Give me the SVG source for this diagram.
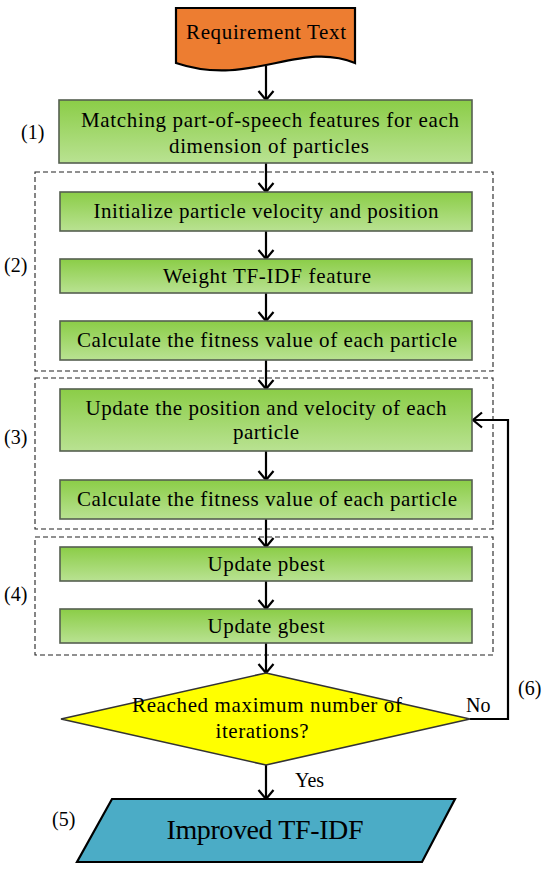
<svg xmlns="http://www.w3.org/2000/svg" width="550" height="874" viewBox="0 0 550 874">
<defs>
<linearGradient id="g" x1="0" y1="0" x2="0" y2="1">
<stop offset="0" stop-color="#8bcd47"/>
<stop offset="1" stop-color="#b9e292"/>
</linearGradient>
<marker id="ah" viewBox="-11 -9 13 18" markerWidth="13" markerHeight="18" refX="0" refY="0" orient="auto" markerUnits="userSpaceOnUse">
<path d="M-9,-7.5 L0,0 L-9,7.5" fill="none" stroke="#000" stroke-width="2.2"/>
</marker>
</defs>
<style>
text{font-family:"Liberation Serif","Times New Roman",serif;fill:#000;}
.t{font-size:21px;text-anchor:middle;}
.lbl{font-size:20px;}
.box{fill:url(#g);stroke:#555f50;stroke-width:1.6;}
.dash{fill:none;stroke:#222;stroke-width:1.1;stroke-dasharray:5,3;}
.c{fill:none;stroke:#000;stroke-width:2.2;marker-end:url(#ah);}
</style>
<rect width="550" height="874" fill="#fff"/>

<g id="groups">
<rect class="dash" x="35" y="172" width="458" height="199"/>
<rect class="dash" x="35" y="378" width="458" height="151"/>
<rect class="dash" x="35" y="537" width="458" height="118"/>
</g>

<g id="connectors">
<line class="c" x1="266" y1="66" x2="266" y2="100"/>
<line class="c" x1="266" y1="163" x2="266" y2="192"/>
<line class="c" x1="266" y1="231" x2="266" y2="259"/>
<line class="c" x1="266" y1="293" x2="266" y2="321"/>
<line class="c" x1="266" y1="360" x2="266" y2="389"/>
<line class="c" x1="266" y1="451" x2="266" y2="480"/>
<line class="c" x1="266" y1="519" x2="266" y2="547"/>
<line class="c" x1="266" y1="581" x2="266" y2="609"/>
<line class="c" x1="266" y1="643" x2="266" y2="673"/>
<line class="c" x1="266" y1="765" x2="266" y2="799"/>
<polyline class="c" points="470,719 508,719 508,420 473,420"/>
</g>

<g id="start">
<path d="M176,8 H355 V63 C300,40 250,88 176,63 Z" fill="#ed7d31" stroke="#000" stroke-width="2.2"/>
<text class="t" x="266" y="39" textLength="160" lengthAdjust="spacing">Requirement Text</text>
</g>

<g id="step1">
<rect class="box" x="59" y="100" width="413" height="63"/>
<text class="t" x="270" y="127" textLength="378" lengthAdjust="spacing">Matching part-of-speech features for each</text>
<text class="t" x="269" y="153" textLength="200" lengthAdjust="spacing">dimension of particles</text>
</g>

<g id="init">
<rect class="box" x="60" y="192" width="412" height="39"/>
<text class="t" x="266" y="218" textLength="345" lengthAdjust="spacing">Initialize particle velocity and position</text>
</g>

<g id="weight">
<rect class="box" x="60" y="259" width="412" height="34"/>
<text class="t" x="267" y="283" textLength="208" lengthAdjust="spacing">Weight TF-IDF feature</text>
</g>

<g id="calc1">
<rect class="box" x="60" y="321" width="412" height="39"/>
<text class="t" x="267" y="347" textLength="380" lengthAdjust="spacing">Calculate the fitness value of each particle</text>
</g>

<g id="update">
<rect class="box" x="60" y="389" width="412" height="62"/>
<text class="t" x="266" y="415" textLength="361" lengthAdjust="spacing">Update the position and velocity of each</text>
<text class="t" x="266" y="439" textLength="66" lengthAdjust="spacing">particle</text>
</g>

<g id="calc2">
<rect class="box" x="60" y="480" width="412" height="39"/>
<text class="t" x="267" y="506" textLength="380" lengthAdjust="spacing">Calculate the fitness value of each particle</text>
</g>

<g id="pbest">
<rect class="box" x="60" y="547" width="412" height="34"/>
<text class="t" x="266" y="571" textLength="117" lengthAdjust="spacing">Update pbest</text>
</g>

<g id="gbest">
<rect class="box" x="60" y="609" width="412" height="34"/>
<text class="t" x="266" y="633" textLength="117" lengthAdjust="spacing">Update gbest</text>
</g>

<g id="decision">
<polygon points="266,673 470,719 266,765 61,719" fill="#ffff00" stroke="#333" stroke-width="1.6"/>
<text class="t" x="267" y="712" textLength="270" lengthAdjust="spacing">Reached maximum number of</text>
<text class="t" x="262" y="738" textLength="93" lengthAdjust="spacing">iterations?</text>
</g>

<g id="result">
<polygon points="112,799 455,799 422,862 77,862" fill="#4bacc6" stroke="#000" stroke-width="2.2"/>
<text x="265" y="839" font-size="28" text-anchor="middle" textLength="197" lengthAdjust="spacing">Improved TF-IDF</text>
</g>

<g id="labels">
<text class="lbl" x="21" y="139">(1)</text>
<text class="lbl" x="4" y="272">(2)</text>
<text class="lbl" x="4" y="444">(3)</text>
<text class="lbl" x="4" y="601">(4)</text>
<text class="lbl" x="52" y="826">(5)</text>
<text class="lbl" x="518" y="695">(6)</text>
<text class="lbl" x="466" y="712">No</text>
<text class="lbl" x="295" y="787">Yes</text>
</g>
</svg>
